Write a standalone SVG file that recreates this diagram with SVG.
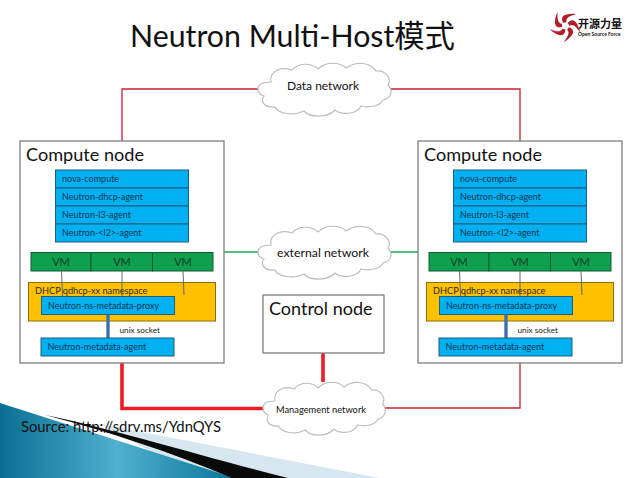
<svg xmlns="http://www.w3.org/2000/svg" width="638" height="478" viewBox="0 0 638 478">
<style>
text{font-family:"Lato","Noto Sans CJK SC","Liberation Sans",sans-serif;fill:#111}
.box{fill:#fff;stroke:#7f7f7f;stroke-width:1.3}
.blue{fill:#00b0f0;stroke:#1f5f80;stroke-width:1}
.green{fill:#0fa04f;stroke:#0e5a30;stroke-width:1}
.or{fill:#ffc000;stroke:#8a6d10;stroke-width:1}
.t{font-size:9px;fill:#0b3554}
.h{font-size:18.100px}
.vm{font-size:11px;fill:#0b3a20;text-anchor:middle}
.cl{fill:#fff;stroke:#bdbdbd;stroke-width:1.2}
.c{text-anchor:middle}
.thin{fill:none;stroke:#c8202f;stroke-width:1.3}
.thick{fill:none;stroke:#ee1c25;stroke-width:3.6}
.gr{fill:none;stroke:#1fa85c;stroke-width:1.3}
.vl{stroke:#5f6b70;stroke-width:1;fill:none}
.sock{stroke:#3f6fa8;stroke-width:3.4;fill:none}
</style>
<defs>
<linearGradient id="teal" x1="0" y1="0" x2="1" y2="0"><stop offset="0" stop-color="#0b6f92"/><stop offset=".5" stop-color="#4fb0cf"/><stop offset="1" stop-color="#0a7596"/></linearGradient>
<path id="cloud" d="M0 26C0 22 4 19 13 19C11 9 22 3 34 7C41-1 54 0 60 6C68-2 82-1 88 5C98-2 112-1 118 8C128 7 134 16 130 22C135 27 134 35 125 37C122 43 112 45 103 43C99 52 83 52 77 47C70 55 52 55 46 48C36 53 20 51 17 44C6 45 2 38 6 33C2 32 0 29 0 26Z"/>
<path id="petal" d="M-2-3C-6-9-2-13 11-12C4-10 0-8 1-4Z"/>
<g id="node">
<rect class="box" x="20" y="141" width="204" height="222"/>
<text class="h" x="26" y="161">Compute node</text>
<rect class="blue" x="55.500" y="170" width="133" height="18"/>
<rect class="blue" x="55.500" y="188" width="133" height="18"/>
<rect class="blue" x="55.500" y="206" width="133" height="18"/>
<rect class="blue" x="55.500" y="224" width="133" height="18"/>
<text class="t" x="62" y="181.500">nova-compute</text>
<text class="t" x="62" y="199.500">Neutron-dhcp-agent</text>
<text class="t" x="62" y="218">Neutron-l3-agent</text>
<text class="t" x="62" y="236">Neutron-&lt;l2&gt;-agent</text>
<rect class="green" x="31" y="252.500" width="60" height="18.500"/>
<rect class="green" x="91" y="252.500" width="61.500" height="18.500"/>
<rect class="green" x="152.500" y="252.500" width="60.500" height="18.500"/>
<text class="vm" x="61" y="266">VM</text>
<text class="vm" x="122" y="266">VM</text>
<text class="vm" x="183" y="266">VM</text>
<rect class="or" x="28.500" y="282.500" width="187" height="38.500"/>
<path class="vl" d="M61.500 271L62.500 296M122 271V296M183 271L184 295"/>
<text class="t" x="35" y="294" style="fill:#2a2a10;font-size:9.200px">DHCP qdhcp-xx namespace</text>
<rect class="blue" x="41.500" y="296.500" width="133" height="18"/>
<text class="t" x="48" y="308.500">Neutron-ns-metadata-proxy</text>
<path class="sock" d="M108 314.500V338"/>
<text class="t" x="119.500" y="333" style="font-size:8.200px;fill:#222">unix socket</text>
<rect class="blue" x="41" y="338" width="133" height="18"/>
<text class="t" x="47.500" y="350">Neutron-metadata-agent</text>
</g>
</defs>
<g id="decor">
<path fill="#d6e7ef" d="M100 424L380 478H200Z"/>
<path fill="url(#teal)" d="M0 403L235 478H0Z"/>
<path fill="#0a0a0a" d="M45 415C110 428 200 456 288 478H232C170 452 110 432 45 415Z"/>
</g>
<g id="connectors">
<path class="thin" d="M258 89H122V141M391 89H520V141M385 408H520V363"/>
<path class="thick" d="M122 363V408.500H264M323 353V382"/>
<path class="gr" d="M224 252H258M391 252H418"/>
</g>
<text id="title" x="130" y="47" font-size="30.300">Neutron Multi-Host模式</text>
<g id="logo">
<g fill="#b01e28" transform="translate(565.500 26)">
<use href="#petal"/>
<use href="#petal" transform="rotate(72)"/>
<use href="#petal" transform="rotate(144)"/>
<use href="#petal" transform="rotate(216)"/>
<use href="#petal" transform="rotate(288)"/>
</g>
<text x="578" y="28" font-size="11" font-weight="700" style="font-family:'Noto Sans CJK SC',sans-serif">开源力量</text>
<text x="578" y="36" font-size="5" font-weight="700">Open Source Force</text>
</g>
<g id="compute-left"><use href="#node"/></g>
<g id="compute-right"><use href="#node" x="398"/></g>
<g id="control-node">
<rect class="box" x="263" y="295" width="121" height="58"/>
<text class="h" x="269" y="315" style="font-size:18px">Control node</text>
</g>
<g id="data-network"><use class="cl" href="#cloud" x="258" y="63"/><text class="c" x="323" y="90" font-size="12">Data network</text></g>
<g id="external-network"><use class="cl" href="#cloud" x="258" y="226"/><text class="c" x="323" y="257" font-size="12.300">external network</text></g>
<g id="management-network"><use class="cl" href="#cloud" transform="translate(263 382) scale(.92 1)"/><text class="c" x="321" y="413" font-size="9.300">Management network</text></g>
<text id="source" x="21" y="432" font-size="14.800">Source: http://sdrv.ms/YdnQYS</text>
</svg>
